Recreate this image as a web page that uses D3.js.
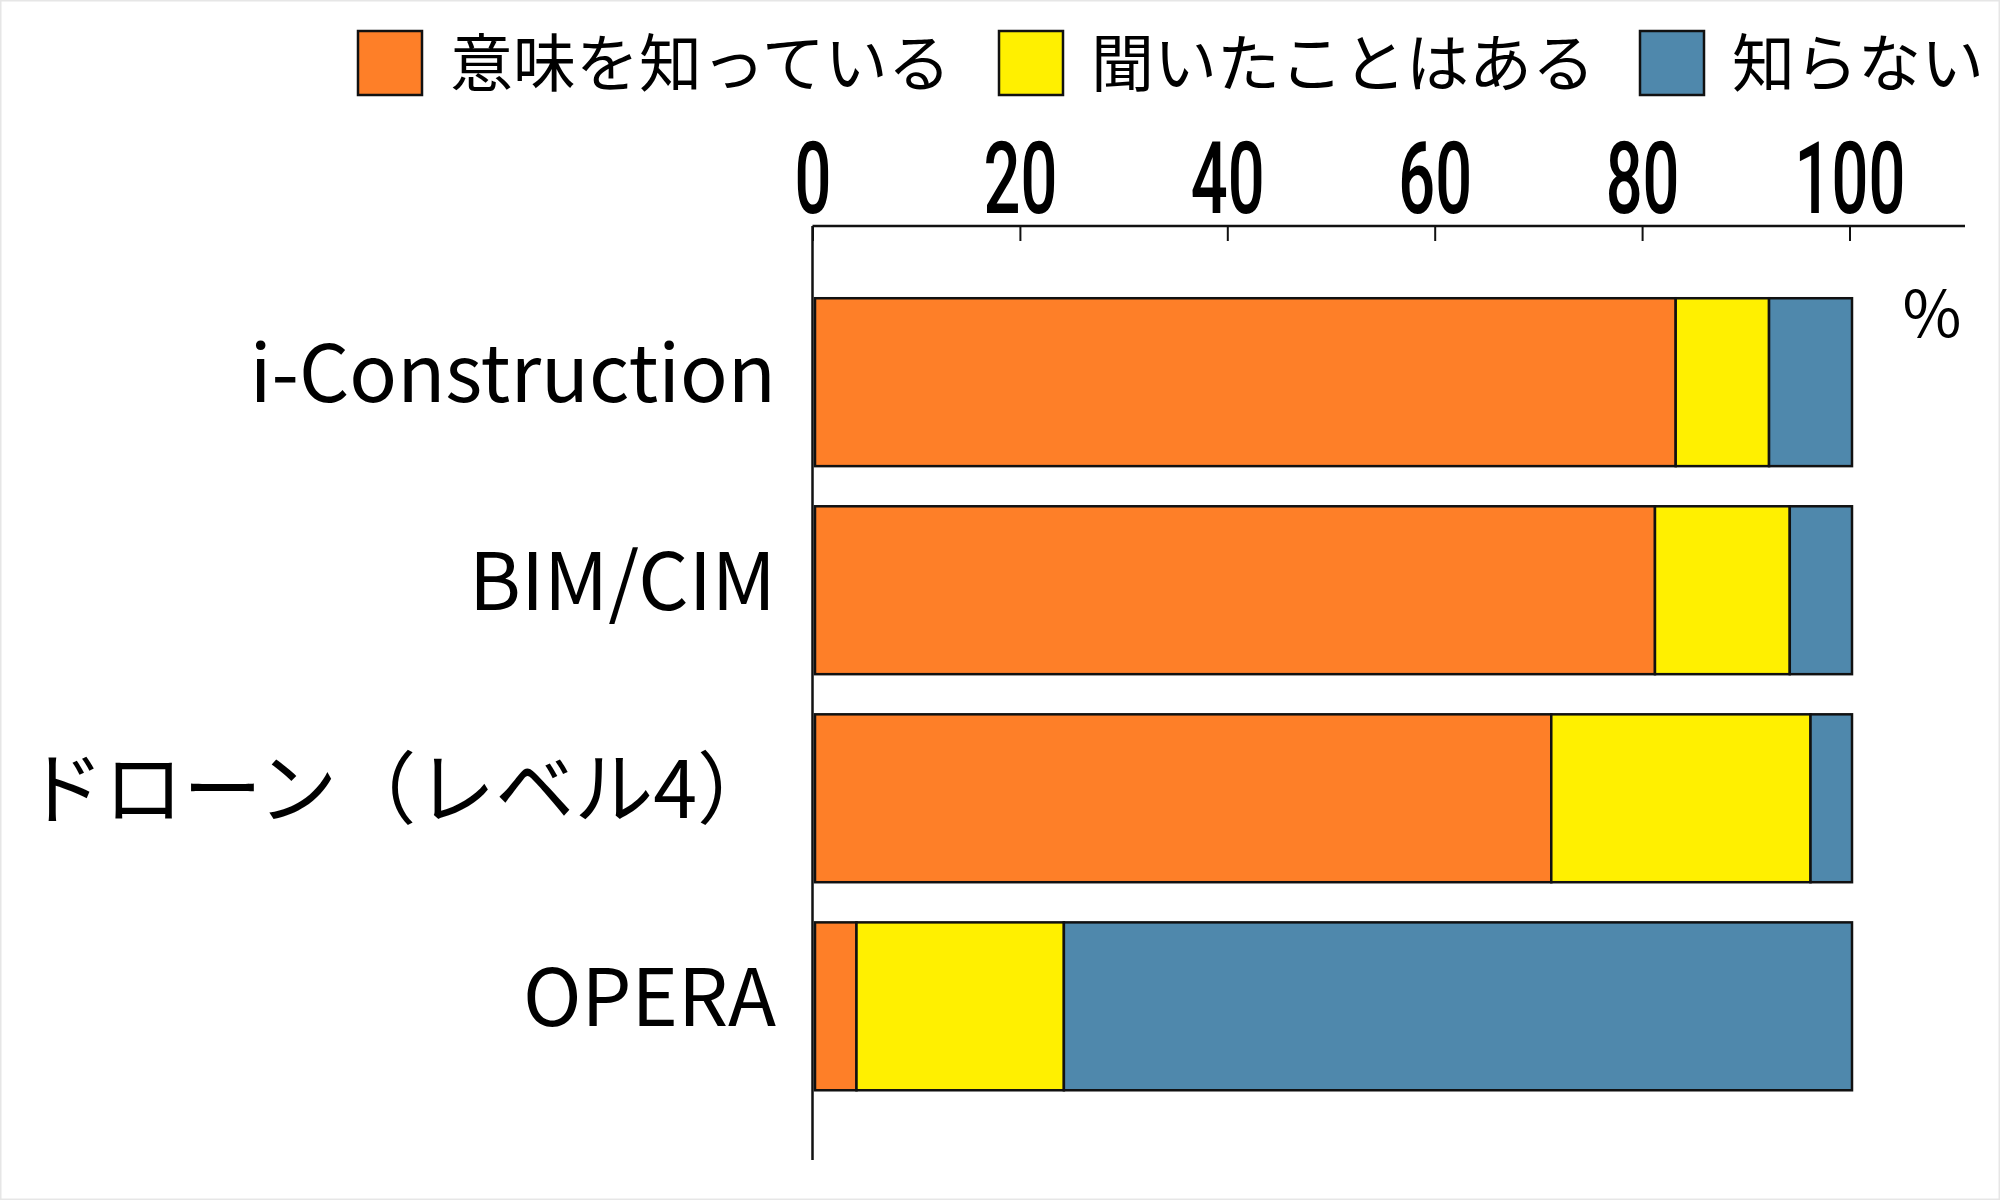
<!DOCTYPE html>
<html>
<head>
    <meta charset="utf-8">
    <title>awareness_stacked_bar</title>
    <script src="https://d3js.org/d3.v7.min.js"></script>
    <style>
        body { margin: 0; background: #ffffff; }
        svg { display: block; }
        .label { font-family: "Noto Sans CJK JP", "Noto Sans", sans-serif; fill: #000; }
        .tick text { font-family: Roboto, "Liberation Sans", sans-serif; font-weight: 500; }
    </style>
</head>
<body>
    <svg width="2000" height="1200"></svg>
    <script>
        // Categories (top to bottom)
        var categories = ["i-Construction", "BIM/CIM", "ドローン（レベル4）", "OPERA"];

        // Series values in %
        var knowMeaning = [83, 81, 71, 4];    // 意味を知っている
        var heardOf = [9, 13, 25, 20];        // 聞いたことはある
        var dontKnow = [8, 6, 4, 76];         // 知らない

        var seriesNames = ["意味を知っている", "聞いたことはある", "知らない"];
        var seriesColors = ["#fe7f28", "#fff000", "#4f88ac"];

        var xTicks = [0, 20, 40, 60, 80, 100];

        // Build table for the stack layout
        var table = categories.map(function(c, i) {
            return { cat: c, s0: knowMeaning[i], s1: heardOf[i], s2: dontKnow[i] };
        });
        var stack = d3.stack().keys(["s0", "s1", "s2"]);
        var layers = stack(table);

        var svg = d3.select("svg");

        // faint outer border
        svg.append("rect")
            .attr("x", 0.75).attr("y", 0.75)
            .attr("width", 1998.5).attr("height", 1198.5)
            .attr("fill", "none")
            .attr("stroke", "#e6e6e6")
            .attr("stroke-width", 1.5);

        var x = d3.scaleLinear().domain([0, 100]).range([815, 1852]);
        var y = d3.scaleBand()
            .domain(categories)
            .range([227.5, 1161])
            .paddingInner(0.193)
            .paddingOuter(0.34);

        // Bars
        svg.append("g")
            .selectAll("g")
            .data(layers)
            .enter()
            .append("g")
            .attr("fill", function(d, i) { return seriesColors[i]; })
            .selectAll("rect")
            .data(function(d) { return d; })
            .enter()
            .append("rect")
            .attr("x", function(d) { return x(d[0]); })
            .attr("y", function(d) { return y(d.data.cat); })
            .attr("width", function(d) { return x(d[1]) - x(d[0]); })
            .attr("height", y.bandwidth())
            .attr("stroke", "#111")
            .attr("stroke-width", 2.5);

        // Top axis (labels above, ticks pointing down)
        var axisY = 226;
        var axis = d3.axisTop(x)
            .tickValues(xTicks)
            .tickSize(-15)
            .tickPadding(13)
            .tickFormat(d3.format("d"));

        var axisG = svg.append("g")
            .attr("transform", "translate(-2.5," + axisY + ")")
            .call(axis);
        axisG.select(".domain").remove();
        axisG.selectAll(".tick line")
            .attr("stroke", "#111")
            .attr("stroke-width", 2);
        axisG.selectAll(".tick text")
            .attr("fill", "#000")
            .attr("font-size", 100)
            .attr("transform", "scale(0.65,1)");

        // Axis lines
        svg.append("line")
            .attr("x1", x(0) - 2.5).attr("x2", 1965)
            .attr("y1", axisY).attr("y2", axisY)
            .attr("stroke", "#111").attr("stroke-width", 2.5);
        svg.append("line")
            .attr("x1", x(0) - 2.5).attr("x2", x(0) - 2.5)
            .attr("y1", axisY).attr("y2", 1160)
            .attr("stroke", "#111").attr("stroke-width", 2.5);

        // Category labels
        svg.append("g")
            .selectAll("text")
            .data(categories)
            .enter()
            .append("text")
            .attr("class", "label")
            .attr("x", 776)
            .attr("y", function(d) { return y(d) + y.bandwidth() / 2 + 20; })
            .attr("text-anchor", "end")
            .attr("font-size", 79)
            .text(function(d) { return d; });

        // Unit
        svg.append("text")
            .attr("class", "label")
            .attr("x", 1932)
            .attr("y", 337)
            .attr("text-anchor", "middle")
            .attr("font-size", 64)
            .text("%");

        // Legend
        var legendX = [358, 999, 1640];
        var legend = svg.append("g")
            .selectAll("g")
            .data(seriesNames)
            .enter()
            .append("g")
            .attr("transform", function(d, i) { return "translate(" + legendX[i] + ",31)"; });
        legend.append("rect")
            .attr("width", 64)
            .attr("height", 64)
            .attr("fill", function(d, i) { return seriesColors[i]; })
            .attr("stroke", "#111")
            .attr("stroke-width", 2.5);
        legend.append("text")
            .attr("class", "label")
            .attr("x", 92)
            .attr("y", 55)
            .attr("font-size", 63)
            .text(function(d) { return d; });
    </script>
</body>
</html>
